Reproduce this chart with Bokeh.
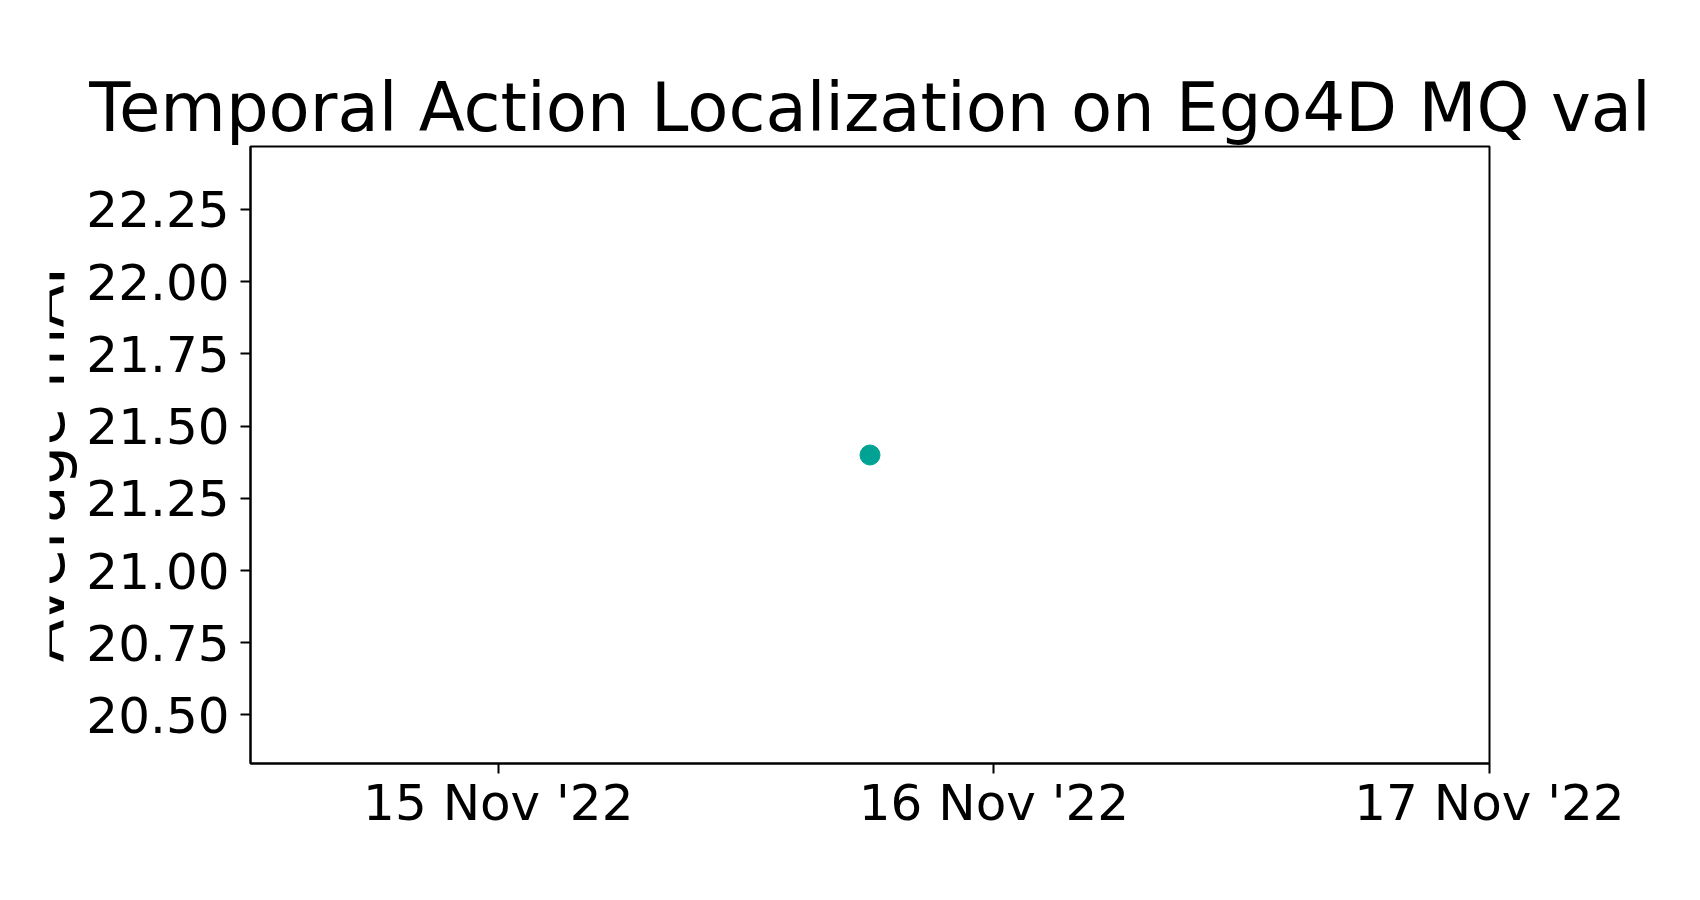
import math
from datetime import timedelta
import pandas as pd
from bokeh.plotting import figure
from bokeh.layouts import row
from bokeh.models import Spacer, FixedTicker, Range1d, ColumnDataSource, NumeralTickFormatter
from bokeh.core.properties import value
from bokeh.embed import file_html
from bokeh.resources import INLINE

# ---- data ----
title_text = "Temporal Action Localization on Ego4D MQ val"
y_label = "Average mAP"
dates = ["2022-11-15 18:00"]
values = [21.4]
x_tick_dates = ["2022-11-15", "2022-11-16", "2022-11-17"]
x_tick_labels = ["15 Nov '22", "16 Nov '22", "17 Nov '22"]
y_ticks = [20.50, 20.75, 21.00, 21.25, 21.50, 21.75, 22.00, 22.25]

FONT = "DejaVu Sans"
TOP, FRAME_H, BOTTOM = 146, 617, 100

xs = [pd.Timestamp(d) for d in dates]
src = ColumnDataSource(dict(x=xs, y=values))

x_pad = timedelta(hours=30)
y_pad = 1.068
x_range = Range1d(start=min(xs) - x_pad, end=max(xs) + x_pad)
y_range = Range1d(start=min(values) - y_pad, end=max(values) + y_pad)

p = figure(x_axis_type="datetime", x_range=x_range, y_range=y_range,
           frame_width=1239, frame_height=FRAME_H,
           min_border_left=171, min_border_right=180,
           min_border_top=TOP, min_border_bottom=BOTTOM,
           output_backend="svg", toolbar_location=None,
           background_fill_color="white", border_fill_color="white")

p.title.text = title_text
p.title.align = "center"
p.title.text_font = FONT
p.title.text_font_size = "67.3px"
p.title.text_font_style = "normal"
p.title.text_color = "black"
p.title.standoff = 0

p.grid.visible = False
p.outline_line_color = "black"
p.outline_line_width = 2
p.outline_line_alpha = 1

tick_ms = [pd.Timestamp(d).value / 1e6 for d in x_tick_dates]
p.xaxis.ticker = FixedTicker(ticks=tick_ms, minor_ticks=[])
p.xaxis.major_label_overrides = {t: lab for t, lab in zip(tick_ms, x_tick_labels)}
p.yaxis.ticker = FixedTicker(ticks=y_ticks, minor_ticks=[])
p.yaxis.formatter = NumeralTickFormatter(format="0.00")

for ax in (p.xaxis[0], p.yaxis[0]):
    ax.axis_line_color = "black"
    ax.axis_line_width = 2
    ax.major_tick_line_color = "black"
    ax.major_tick_line_width = 2
    ax.major_tick_out = 10
    ax.major_tick_in = 0
    ax.minor_tick_line_color = None
    ax.major_label_text_font = FONT
    ax.major_label_text_font_size = "50px"
    ax.major_label_text_color = "black"
p.xaxis.major_label_standoff = 0
p.yaxis.major_label_standoff = 11

p.scatter("x", "y", source=src, size=20, color="#00a294", line_color="#00a294")

# narrow strip holding the (clipped) y-axis title, as in the reference
LAB_W = 30
lab = figure(width=LAB_W, frame_width=LAB_W, frame_height=FRAME_H,
             min_border_left=0, min_border_right=0,
             min_border_top=TOP, min_border_bottom=BOTTOM,
             x_range=Range1d(0, LAB_W), y_range=y_range,
             output_backend="svg", toolbar_location=None,
             background_fill_color="white", border_fill_color="white")
lab.axis.visible = False
lab.grid.visible = False
lab.outline_line_color = None
lab_src = ColumnDataSource(dict(x=[13], y=[sum(values) / len(values)], t=[y_label]))
lab.text("x", "y", text="t", source=lab_src, angle=math.pi / 2,
         x_offset=-20, text_align="center", text_baseline="alphabetic",
         text_font=value(FONT), text_font_size="62px", text_color="black")

layout = row(Spacer(width=49, height=10), lab, p)
open("out.html", "w").write(file_html(layout, INLINE))
